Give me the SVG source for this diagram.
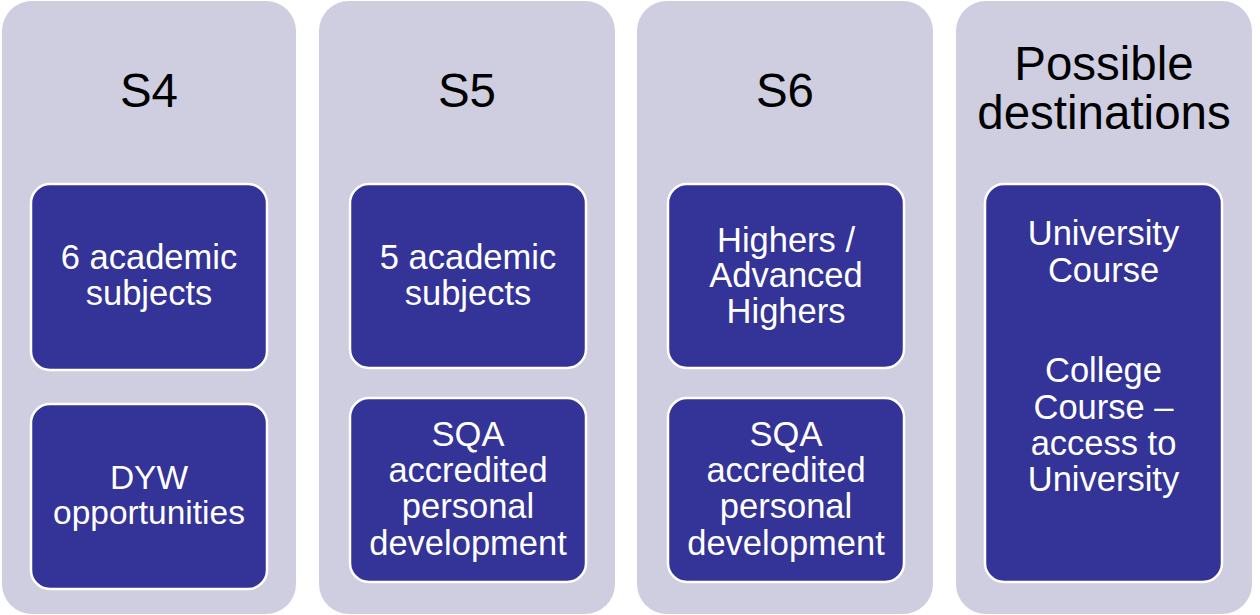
<svg xmlns="http://www.w3.org/2000/svg" width="1260" height="615" viewBox="0 0 1260 615">
<style>
.col{fill:#CFCEE0;}
.box{fill:#343397;stroke:#FFFFFF;stroke-width:2.5;}
.title{font-family:"Liberation Sans",Arial,sans-serif;font-size:47.5px;fill:#000000;text-anchor:middle;}
.txt{font-family:"Liberation Sans",Arial,sans-serif;font-size:34.5px;fill:#FFFFFF;text-anchor:middle;}
.sm{font-size:33.5px;}
</style>
<rect width="1260" height="615" fill="#FFFFFF"/>
<g id="col-s4">
<rect class="col" x="2" y="1" width="294" height="613" rx="30" ry="30"/>
<text class="title" x="149" y="107">S4</text>
</g>
<g id="s4-academic">
<rect class="box" x="31" y="184" width="236" height="186" rx="19" ry="19"/>
<text class="txt" x="149" y="269">6 academic</text>
<text class="txt" x="149" y="305">subjects</text>
</g>
<g id="s4-dyw">
<rect class="box" x="31" y="404" width="236" height="185" rx="19" ry="19"/>
<text class="txt sm" x="149" y="489">DYW</text>
<text class="txt sm" x="149" y="524">opportunities</text>
</g>
<g id="col-s5">
<rect class="col" x="319" y="1" width="296" height="613" rx="30" ry="30"/>
<text class="title" x="467" y="107">S5</text>
</g>
<g id="s5-academic">
<rect class="box" x="350" y="184" width="236" height="184" rx="19" ry="19"/>
<text class="txt" x="468" y="269">5 academic</text>
<text class="txt" x="468" y="305">subjects</text>
</g>
<g id="s5-sqa">
<rect class="box" x="350" y="398" width="236" height="184" rx="19" ry="19"/>
<text class="txt" x="468" y="446">SQA</text>
<text class="txt" x="468" y="482">accredited</text>
<text class="txt" x="468" y="518">personal</text>
<text class="txt" x="468" y="555">development</text>
</g>
<g id="col-s6">
<rect class="col" x="637" y="1" width="296" height="613" rx="30" ry="30"/>
<text class="title" x="785" y="107">S6</text>
</g>
<g id="s6-highers">
<rect class="box" x="668" y="184" width="236" height="184" rx="19" ry="19"/>
<text class="txt" x="786" y="252">Highers /</text>
<text class="txt" x="786" y="287">Advanced</text>
<text class="txt" x="786" y="323">Highers</text>
</g>
<g id="s6-sqa">
<rect class="box" x="668" y="398" width="236" height="184" rx="19" ry="19"/>
<text class="txt" x="786" y="446">SQA</text>
<text class="txt" x="786" y="482">accredited</text>
<text class="txt" x="786" y="518">personal</text>
<text class="txt" x="786" y="555">development</text>
</g>
<g id="col-destinations">
<rect class="col" x="956" y="1" width="296" height="613" rx="30" ry="30"/>
<text class="title" x="1104" y="80">Possible</text>
<text class="title" x="1104" y="129">destinations</text>
</g>
<g id="destinations-list">
<rect class="box" x="985" y="184" width="237" height="398" rx="19" ry="19"/>
<text class="txt" x="1103.5" y="245">University</text>
<text class="txt" x="1103.5" y="282">Course</text>
<text class="txt" x="1103.5" y="382">College</text>
<text class="txt" x="1103.5" y="419">Course –</text>
<text class="txt" x="1103.5" y="455">access to</text>
<text class="txt" x="1103.5" y="491">University</text>
</g>
<g id="connectors"/>
</svg>
